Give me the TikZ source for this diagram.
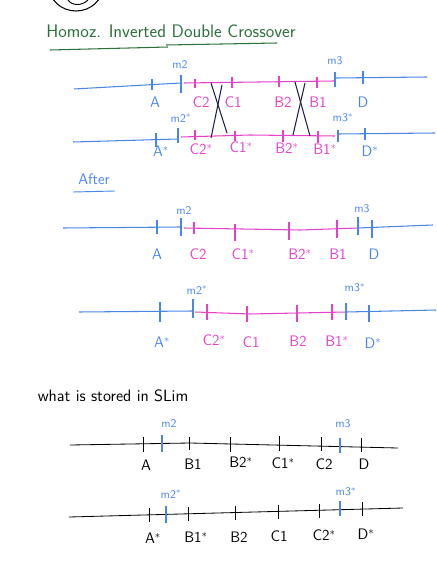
\documentclass[tikz,border=0pt]{standalone}
\usepackage{tikz}
\usetikzlibrary{positioning}
\definecolor{chrblue}{RGB}{74,134,232}
\definecolor{chrpink}{RGB}{232,64,200}
\definecolor{titlegreen}{RGB}{46,112,60}
\definecolor{xnavy}{RGB}{30,30,80}
\newcommand{\sx}{$^{\ast}$}

\begin{document}
\begin{tikzpicture}[x=0.03cm, y=-0.03cm, font=\sffamily,
  bl/.style={chrblue, line width=0.9pt},
  pk/.style={chrpink, line width=0.9pt},
  bk/.style={black, line width=0.7pt},
  lab/.style={font=\sffamily\fontsize{13}{15}\selectfont, inner sep=1pt},
  mlab/.style={font=\sffamily\fontsize{10}{12}\selectfont, text=chrblue, inner sep=1pt}]
  \useasboundingbox (0,0) rectangle (436,566);
  % bit of a circle cut off at the top
  \begin{scope}
    \clip (0,0) rectangle (436,566);
    \draw[line width=0.9pt] (76,-14) ellipse (27 and 25);
    \draw[line width=0.8pt] (68,0) .. controls (72,6) and (82,6) .. (88,0);
  \end{scope}
  % title
  \node[font=\sffamily\fontsize{15.5}{18}\selectfont, text=titlegreen, inner sep=0pt] (title) at (171,31)
    {Homoz. Inverted Double Crossover};
  \draw[titlegreen, line width=0.9pt] (50,50) -- (168,47);
  \draw[titlegreen, line width=0.9pt] (166,45) -- (277,43);

  % before: upper pair
  \draw[bl] (74,89) -- (181,83);
  \draw[pk] (184,83) -- (334,81);
  \draw[bl] (336,78) -- (427,77);
  \draw[bl] (152,79) -- (152,90);
  \draw[bl] (181,75) -- (181,93);
  \draw[bl] (335,72) -- (335,87);
  \draw[bl] (363,71) -- (363,84);
  \foreach \x/\a/\b in {195/79/88, 232/77/88, 279/76/87, 317/77/88}
    \draw[pk] (\x,\a) -- (\x,\b);
  \node[mlab] (m2a) at (180,65) {m2};
  \node[mlab] (m3a) at (335,61) {m3};
  \node[mlab] (m2b) at (181,118) {m2\sx};
  \node[mlab] (m3b) at (343,118) {m3\sx};
  \foreach \x/\t/\c [count=\i] in {155/A/chrblue, 201/C2/chrpink, 233/C1/chrpink,
      283/B2/chrpink, 318/B1/chrpink, 363/D/chrblue}
    \node[lab, text=\c] (ua\i) at (\x,102) {\t};

  \draw[bl] (73,142) -- (178,139);
  \draw[pk] (181,137) -- (250,135) -- (335,136);
  \draw[bl] (338,134) -- (435,133);
  \draw[bl] (156,133) -- (156,147);
  \draw[bl] (178,128) -- (178,143);
  \draw[bl] (338,130) -- (338,142);
  \draw[bl] (365,128) -- (365,140);
  \foreach \x/\a/\b in {195/130/140, 235/131/141, 283/130/142, 318/131/143}
    \draw[pk] (\x,\a) -- (\x,\b);
  \foreach \x/\y/\t/\c [count=\i] in {161/151/A/chrblue, 201/149/C2/chrpink,
      241/147/C1/chrpink, 287/148/B2/chrpink, 325/149/B1/chrpink, 370/151/D/chrblue}
    \node[lab, text=\c] (la\i) at (\x,\y) {\t\sx};

  % the two crossovers
  \draw[xnavy, line width=0.9pt] (211,83) -- (227,133);
  \draw[xnavy, line width=0.9pt] (222,85) -- (211,138);
  \draw[xnavy, line width=0.9pt] (295,82) -- (310,136);
  \draw[xnavy, line width=0.9pt] (305,83) -- (293,135);

  % after
  \node[lab, text=chrblue] (after) at (94,179) {After};
  \draw[chrblue, line width=0.8pt] (73,192) -- (115,191);

  \draw[bl] (63,228) -- (180,227);
  \draw[pk] (184,228) -- (300,230) -- (358,228);
  \draw[bl] (358,228) -- (433,225);
  \draw[bl] (157,220) -- (157,234);
  \draw[bl] (181,218) -- (181,236);
  \draw[bl] (358,217) -- (358,235);
  \draw[bl] (372,220) -- (372,238);
  \foreach \x/\a/\b in {194/222/234, 235/224/241, 289/222/240, 337/220/238}
    \draw[pk] (\x,\a) -- (\x,\b);
  \node[mlab] (m2c) at (184,211) {m2};
  \node[mlab] (m3c) at (362,209) {m3};
  \foreach \x/\t/\c [count=\i] in {157/A/chrblue, 198/C2/chrpink, 243/C1\sx/chrpink,
      300/B2\sx/chrpink, 338/B1/chrpink, 374/D/chrblue}
    \node[lab, text=\c] (ub\i) at (\x,254) {\t};

  \draw[bl] (79,312) -- (192,311);
  \draw[pk] (195,312) -- (250,314) -- (346,312);
  \draw[bl] (346,312) -- (436,310);
  \draw[bl] (160,302) -- (160,322);
  \draw[bl] (193,299) -- (193,318);
  \draw[bl] (346,303) -- (346,320);
  \draw[bl] (369,305) -- (369,322);
  \foreach \x/\a/\b in {207/304/320, 247/306/322, 297/305/322, 332/304/320}
    \draw[pk] (\x,\a) -- (\x,\b);
  \node[mlab] (m2d) at (197,290) {m2\sx};
  \node[mlab] (m3d) at (355,288) {m3\sx};
  \foreach \x/\y/\t/\c [count=\i] in {162/342/A\sx/chrblue, 214/340/C2\sx/chrpink,
      251/342/C1/chrpink, 298/341/B2/chrpink, 337/341/B1\sx/chrpink, 373/343/D\sx/chrblue}
    \node[lab, text=\c] (lb\i) at (\x,\y) {\t};

  % what SLim keeps
  \node[font=\sffamily\fontsize{14}{16}\selectfont, inner sep=0pt] (slim) at (113,396)
    {what is stored in SLim};

  \draw[bk] (70,445) -- (190,443) -- (398,448);
  \foreach \x/\a/\b in {143/437/452, 189/437/450, 230/437/452, 279/436/451, 321/437/451, 361/438/452}
    \draw[bk] (\x,\a) -- (\x,\b);
  \draw[bl] (162,435) -- (162,452);
  \draw[bl] (340,438) -- (340,453);
  \node[mlab] (m2e) at (169,424) {m2};
  \node[mlab] (m3e) at (343,424) {m3};
  \foreach \x/\y/\t [count=\i] in {146/465/A, 193/464/B1, 241/462/B2\sx,
      283/463/C1\sx, 324/464/C2, 364/464/D}
    \node[lab] (uc\i) at (\x,\y) {\t};

  \draw[bk] (69,517) -- (403,508);
  \foreach \x/\y in {149/515, 188/514, 235/512.5, 278/511.5, 319/510.5, 362/509}
    \draw[bk] (\x,\y-7) -- (\x,\y+7);
  \draw[bl] (166,506) -- (166,523);
  \draw[bl] (340,501) -- (340,516);
  \node[mlab] (m2f) at (171,494) {m2\sx};
  \node[mlab] (m3f) at (346,492) {m3\sx};
  \foreach \x/\y/\t [count=\i] in {153/538/A\sx, 196/537/B1\sx, 239/537/B2,
      279/536/C1, 324/535/C2\sx, 366/534/D\sx}
    \node[lab] (lc\i) at (\x,\y) {\t};
\end{tikzpicture}
\end{document}
